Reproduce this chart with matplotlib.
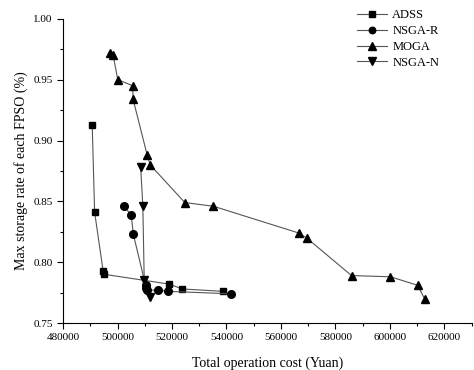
import matplotlib
matplotlib.use("Agg")
import matplotlib.pyplot as plt
from matplotlib.ticker import MultipleLocator

plt.rcParams['font.family'] = ['Liberation Serif', 'DejaVu Serif']

# ---- data ----
adss_x = [490700, 491600, 494700, 495200, 518900, 523800, 538900]
adss_y = [0.913, 0.841, 0.793, 0.790, 0.782, 0.778, 0.776]

nsgar_x = [502300, 505000, 505800, 510300, 510600, 511000, 515000, 518700, 541800]
nsgar_y = [0.846, 0.839, 0.823, 0.781, 0.779, 0.777, 0.777, 0.776, 0.774]

moga_x = [497100, 498400, 500100, 505600, 505700, 510900, 512000, 524700, 535200,
          566500, 569400, 585900, 600200, 610200, 612700]
moga_y = [0.972, 0.970, 0.950, 0.945, 0.934, 0.888, 0.880, 0.849, 0.846,
          0.824, 0.820, 0.789, 0.788, 0.781, 0.770]

nsgan_x = [508500, 509300, 509800, 510400, 511800]
nsgan_y = [0.878, 0.846, 0.785, 0.778, 0.771]

fig = plt.figure(figsize=(4.74, 3.70), dpi=100)
ax = fig.add_axes([0.133, 0.127, 0.862, 0.822])

lc = '#555555'
ax.plot(adss_x, adss_y, color=lc, lw=0.8, marker='s', ms=5, mfc='black', mec='black', label='ADSS')
ax.plot(nsgar_x, nsgar_y, color=lc, lw=0.8, marker='o', ms=5.5, mfc='black', mec='black', label='NSGA-R')
ax.plot(moga_x, moga_y, color=lc, lw=0.8, marker='^', ms=6, mfc='black', mec='black', label='MOGA')
ax.plot(nsgan_x, nsgan_y, color=lc, lw=0.8, marker='v', ms=6, mfc='black', mec='black', label='NSGA-N')

ax.set_xlim(480000, 630000)
ax.set_ylim(0.75, 1.00)
ax.xaxis.set_major_locator(MultipleLocator(20000))
ax.xaxis.set_minor_locator(MultipleLocator(10000))
ax.yaxis.set_major_locator(MultipleLocator(0.05))
ax.yaxis.set_minor_locator(MultipleLocator(0.025))
ax.yaxis.set_major_formatter(plt.FormatStrFormatter('%.2f'))

ax.spines['top'].set_visible(False)
ax.spines['right'].set_visible(False)
ax.tick_params(which='major', direction='out', length=4, width=0.8, labelsize=8)
ax.tick_params(which='minor', direction='out', length=2.5, width=0.8)

ax.set_xlabel('Total operation cost (Yuan)', fontsize=10, labelpad=10)
ax.set_ylabel('Max storage rate of each FPSO (%)', fontsize=10)

ax.legend(loc='upper left', bbox_to_anchor=(0.73, 1.005), bbox_transform=fig.transFigure,
          frameon=False, fontsize=9, handlelength=2.4, labelspacing=0.3, handletextpad=0.4,
          markerscale=0.85)

fig.savefig('out.png', dpi=100)
